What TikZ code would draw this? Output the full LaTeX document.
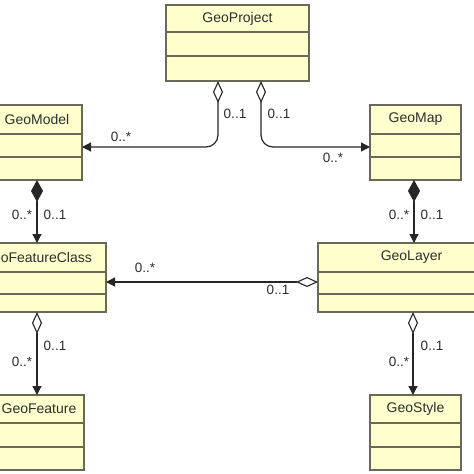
\documentclass[tikz,border=0pt]{standalone}
\usepackage{fontspec}
\setmainfont{Liberation Sans}
\usetikzlibrary{arrows.meta,calc}
\definecolor{boxfill}{RGB}{255,255,206}
\definecolor{boxline}{RGB}{105,105,85}
\definecolor{txt}{RGB}{45,45,45}
\tikzset{
  classbox/.style={draw=boxline, fill=boxfill, line width=1.2pt, inner sep=0pt, outer sep=0pt, rectangle},
  divider/.style={draw=boxline, line width=1.2pt},
  classtitle/.style={text=txt, font=\fontsize{14}{16}\selectfont, inner sep=0pt},
  mult/.style={text=txt, font=\fontsize{13.5}{15}\selectfont, inner sep=0pt},
  conn/.style={draw=black!85, line width=1.2pt},
  aggr/.style={conn, {Diamond[length=22pt,width=10pt,fill=white,line width=1.1pt]}-{Triangle[length=9pt,width=9pt]}},
  compo/.style={conn, {Diamond[length=22pt,width=12pt]}-{Triangle[length=9pt,width=9pt]}}
}
% name, left, top, right, bottom, divider1, divider2, title
\newcommand\umlclass[8]{%
  \node[classbox, anchor=north west, minimum width={(#4-(#2))*1pt}, minimum height={(#5-(#3))*1pt}] (#1) at (#2,#3) {};
  \draw[divider] (#2,#6) -- (#4,#6);
  \draw[divider] (#2,#7) -- (#4,#7);
  \node[classtitle] (#1-title) at ({(#2+#4)/2},{(#3+#6)/2}) {#8};
}
\begin{document}
\begin{tikzpicture}[x=1pt,y=-1pt]
\useasboundingbox (0,0) rectangle (474,474);
\fill[white] (0,0) rectangle (474,474);
\clip (0,0) rectangle (474,474);

\umlclass{proj}{166}{5}{309}{81}{32}{56}{GeoProject}
\umlclass{gm}{-8}{105}{82}{180}{134}{157}{GeoModel}
\umlclass{gmap}{370}{105}{461}{180}{134}{157}{GeoMap}
\umlclass{gfc}{-32}{243}{106}{312}{272}{294}{GeoFeatureClass}
\umlclass{gl}{318}{243}{505}{312}{272}{294}{GeoLayer}
\umlclass{gf}{-6}{395}{84}{470}{423}{447}{GeoFeature}
\umlclass{gs}{370}{395}{461}{470}{423}{447}{GeoStyle}

% anchor coordinates on the boxes
\coordinate (p1) at (218,81);
\coordinate (p2) at (261,81);
\coordinate (gmin) at (gm.east |- 0,147);
\coordinate (gmapin) at (gmap.west |- 0,147);
\coordinate (gmout) at (37,180);
\coordinate (gfcin) at (37,243);
\coordinate (gmapout) at (414,180);
\coordinate (glin) at (414,243);
\coordinate (glout) at (gl.west |- 0,282);
\coordinate (gfcside) at (gfc.east |- 0,282);
\coordinate (gfcout) at (37,312);
\coordinate (gfin) at (37,395);
\coordinate (glbot) at (413,312);
\coordinate (gsin) at (413,395);

\draw[aggr, rounded corners=12pt] (p1) |- (gmin);
\draw[aggr, rounded corners=12pt] (p2) |- (gmapin);
\draw[compo] (gmout) -- (gfcin);
\draw[compo] (gmapout) -- (glin);
\draw[aggr] (glout) -- (gfcside);
\draw[aggr] (gfcout) -- (gfin);
\draw[aggr] (glbot) -- (gsin);

% multiplicities
\node[mult] (m1a) at (235,114) {0..1};
\node[mult] (m1b) at (121,137) {0..*};
\node[mult] (m2a) at (279,114) {0..1};
\node[mult] (m2b) at (333,158) {0..*};
\node[mult] (m3a) at (22,215) {0..*};
\node[mult] (m3b) at (55,215) {0..1};
\node[mult] (m4a) at (399,215) {0..*};
\node[mult] (m4b) at (432,215) {0..1};
\node[mult] (m5a) at (145,268) {0..*};
\node[mult] (m5b) at (278,290) {0..1};
\node[mult] (m6a) at (55,346) {0..1};
\node[mult] (m6b) at (22,362) {0..*};
\node[mult] (m7a) at (432,346) {0..1};
\node[mult] (m7b) at (399,362) {0..*};
\end{tikzpicture}
\end{document}
